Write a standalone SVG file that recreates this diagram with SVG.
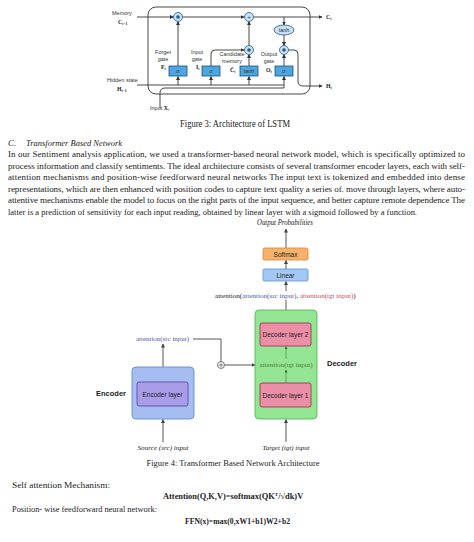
<svg xmlns="http://www.w3.org/2000/svg" width="474" height="542" viewBox="0 0 474 542">
<defs>
<style>
.serif{font-family:"Liberation Serif","Times New Roman",serif;fill:#222}
.sans{font-family:"Liberation Sans",Arial,sans-serif;fill:#222}
.ll{font-family:"Liberation Sans",Arial,sans-serif;font-size:5.5px;fill:#333}
.lb{font-family:"Liberation Serif",serif;font-size:5.8px;font-weight:bold;fill:#222}
.ln{fill:none;stroke:#333;stroke-width:0.9}
.gate{fill:#4ea6e0;stroke:#1d4f78;stroke-width:0.8}
.op{fill:#c4e1f6;stroke:#2a5a82;stroke-width:0.8}
.tl{fill:none;stroke:#444;stroke-width:0.9}
.para{font-family:"Liberation Serif","Times New Roman",serif;font-size:9px;fill:#222}
</style>
<marker id="ah" markerWidth="4" markerHeight="4" refX="3.5" refY="2" orient="auto" markerUnits="userSpaceOnUse">
<path d="M0,0 L4,2 L0,4 Z" fill="#333"/>
</marker>
<marker id="ta" markerWidth="4" markerHeight="4" refX="3.5" refY="2" orient="auto" markerUnits="userSpaceOnUse">
<path d="M0,0 L4,2 L0,4 Z" fill="#444"/>
</marker>
<marker id="ga" markerWidth="3" markerHeight="3" refX="2.5" refY="1.5" orient="auto" markerUnits="userSpaceOnUse">
<path d="M0,0 L3,1.5 L0,3 Z" fill="#3a6b2a"/>
</marker>
</defs>
<rect width="474" height="542" fill="#ffffff"/>

<!-- LSTM figure -->
<g id="lstm">
<g id="lstm-connectors">
<rect x="148" y="7" width="162" height="87" rx="8" class="ln"/>
<line x1="137" y1="17" x2="173.5" y2="17" class="ln" marker-end="url(#ah)"/>
<line x1="182.5" y1="17" x2="244" y2="17" class="ln" marker-end="url(#ah)"/>
<line x1="253.5" y1="17" x2="322" y2="17" class="ln" marker-end="url(#ah)"/>
<line x1="284" y1="17" x2="284" y2="25" class="ln" marker-end="url(#ah)"/>
<line x1="284" y1="35" x2="284" y2="45.5" class="ln" marker-end="url(#ah)"/>
<line x1="178" y1="66" x2="178" y2="21.5" class="ln" marker-end="url(#ah)"/>
<path d="M211,66 V54 Q211,50 215,50 H244" class="ln" marker-end="url(#ah)"/>
<line x1="249" y1="66" x2="249" y2="54.5" class="ln" marker-end="url(#ah)"/>
<line x1="249" y1="45.5" x2="249" y2="21.5" class="ln" marker-end="url(#ah)"/>
<line x1="284" y1="66" x2="284" y2="54.5" class="ln" marker-end="url(#ah)"/>
<path d="M288.5,50 H294 Q298,50 298,54 V81 Q298,86 303,86 H322" class="ln" marker-end="url(#ah)"/>
<line x1="137" y1="85" x2="284" y2="85" class="ln"/>
<path d="M160,108 V93 Q160,88 165,88 H284" class="ln"/>
<line x1="178" y1="85" x2="178" y2="76.5" class="ln" marker-end="url(#ah)"/>
<line x1="211" y1="85" x2="211" y2="76.5" class="ln" marker-end="url(#ah)"/>
<line x1="249" y1="85" x2="249" y2="76.5" class="ln" marker-end="url(#ah)"/>
<line x1="284" y1="88" x2="284" y2="76.5" class="ln" marker-end="url(#ah)"/>
</g>
<g id="lstm-forget"><rect x="169" y="66" width="18" height="10" class="gate"/><text x="178" y="73" text-anchor="middle" class="ll">σ</text></g>
<g id="lstm-input"><rect x="202" y="66" width="18" height="10" class="gate"/><text x="211" y="73" text-anchor="middle" class="ll">σ</text></g>
<g id="lstm-cand"><rect x="240" y="66" width="18" height="10" class="gate"/><text x="249" y="73" text-anchor="middle" class="ll" font-size="5">tanh</text></g>
<g id="lstm-output"><rect x="275" y="66" width="18" height="10" class="gate"/><text x="284" y="73" text-anchor="middle" class="ll">σ</text></g>
<g id="lstm-mul1"><circle cx="178" cy="17" r="4.5" class="op"/><circle cx="178" cy="17" r="1.8" fill="#2a5a82"/></g>
<g id="lstm-add"><circle cx="249" cy="17" r="4.5" class="op"/><text x="249" y="19" text-anchor="middle" class="ll">+</text></g>
<g id="lstm-mul2"><circle cx="249" cy="50" r="4.5" class="op"/><circle cx="249" cy="50" r="1.8" fill="#2a5a82"/></g>
<g id="lstm-mul3"><circle cx="284" cy="50" r="4.5" class="op"/><circle cx="284" cy="50" r="1.8" fill="#2a5a82"/></g>
<g id="lstm-tanh"><ellipse cx="284" cy="30" rx="10" ry="5" class="op"/><text x="284" y="32" text-anchor="middle" class="ll" font-size="5">tanh</text></g>
<g id="lstm-labels">
<text x="112" y="15" class="ll">Memory</text>
<text x="118" y="24" class="lb">C<tspan font-size="3.6" dy="1">t−1</tspan></text>
<text x="107" y="82" class="ll">Hidden state</text>
<text x="117" y="91" class="lb">H<tspan font-size="3.6" dy="1">t−1</tspan></text>
<text x="163" y="54" text-anchor="middle" class="ll">Forget</text>
<text x="163" y="61" text-anchor="middle" class="ll">gate</text>
<text x="161" y="69" class="lb">F<tspan font-size="3.6" dy="1">t</tspan></text>
<text x="197" y="54" text-anchor="middle" class="ll">Input</text>
<text x="197" y="61" text-anchor="middle" class="ll">gate</text>
<text x="196" y="69" class="lb">I<tspan font-size="3.6" dy="1">t</tspan></text>
<text x="232" y="56" text-anchor="middle" class="ll">Candidate</text>
<text x="232" y="63" text-anchor="middle" class="ll">memory</text>
<text x="230" y="72" class="lb">C̃<tspan font-size="3.6" dy="1">t</tspan></text>
<text x="269" y="56" text-anchor="middle" class="ll">Output</text>
<text x="269" y="63" text-anchor="middle" class="ll">gate</text>
<text x="266" y="72" class="lb">O<tspan font-size="3.6" dy="1">t</tspan></text>
<text x="326" y="19" class="lb">C<tspan font-size="3.6" dy="1">t</tspan></text>
<text x="326" y="88" class="lb">H<tspan font-size="3.6" dy="1">t</tspan></text>
<text x="150" y="110" class="ll">Input <tspan class="lb">X</tspan><tspan font-size="3.6" dy="1">t</tspan></text>
</g>
</g>

<text x="235" y="127" text-anchor="middle" class="serif" font-size="9.5" textLength="110" lengthAdjust="spacingAndGlyphs">Figure 3: Architecture of LSTM</text>

<g id="section">
<text x="8" y="146" class="para" font-style="italic">C.</text>
<text x="26" y="146" class="para" font-style="italic" textLength="96" lengthAdjust="spacingAndGlyphs">Transformer Based Network</text>
<text x="8" y="157" class="para" textLength="457" lengthAdjust="spacing">In our Sentiment analysis application, we used a transformer-based neural network model, which is specifically optimized to</text>
<text x="8" y="169" class="para" textLength="457" lengthAdjust="spacing">process information and classify sentiments. The ideal architecture consists of several transformer encoder layers, each with self-</text>
<text x="8" y="180" class="para" textLength="457" lengthAdjust="spacing">attention mechanisms and position-wise feedforward neural networks The input text is tokenized and embedded into dense</text>
<text x="8" y="192" class="para" textLength="457" lengthAdjust="spacing">representations, which are then enhanced with position codes to capture text quality a series of. move through layers, where auto-</text>
<text x="8" y="203" class="para" textLength="457" lengthAdjust="spacing">attentive mechanisms enable the model to focus on the right parts of the input sequence, and better capture remote dependence The</text>
<text x="8" y="215" class="para" textLength="409" lengthAdjust="spacingAndGlyphs">latter is a prediction of sensitivity for each input reading, obtained by linear layer with a sigmoid followed by a function.</text>
</g>

<!-- Transformer figure -->
<g id="tf-connectors">
<line x1="286" y1="248" x2="286" y2="229" class="tl" marker-end="url(#ta)"/>
<line x1="286" y1="269" x2="286" y2="260.5" class="tl" marker-end="url(#ta)"/>
<line x1="286" y1="291" x2="286" y2="281.5" class="tl" marker-end="url(#ta)"/>
<line x1="286" y1="310" x2="286" y2="300" class="tl"/>
<line x1="163" y1="367" x2="163" y2="344" class="tl" marker-end="url(#ta)"/>
<path d="M193,339 H221 V361.5" class="tl"/>
<line x1="224.5" y1="365" x2="255" y2="365" class="tl" marker-end="url(#ta)"/>
<line x1="163" y1="442" x2="163" y2="419.5" class="tl" marker-end="url(#ta)"/>
<line x1="286" y1="442" x2="286" y2="419.5" class="tl" marker-end="url(#ta)"/>
</g>
<g id="tf-output"><text x="285" y="225" text-anchor="middle" class="serif" font-style="italic" font-size="7.5" textLength="56" lengthAdjust="spacingAndGlyphs">Output Probabilities</text></g>
<g id="tf-softmax"><rect x="263" y="248" width="45" height="12" rx="1.5" fill="#f6b26b" stroke="#d9893a" stroke-width="0.8"/><text x="285.5" y="256.5" text-anchor="middle" class="sans" font-size="6.5">Softmax</text></g>
<g id="tf-linear"><rect x="263" y="269" width="45" height="12" rx="1.5" fill="#a4c8f4" stroke="#5b8fd6" stroke-width="0.8"/><text x="285.5" y="277.5" text-anchor="middle" class="sans" font-size="6.5">Linear</text></g>
<g id="tf-attn-label">
<text x="215" y="298" class="serif" font-size="7.1">attention(<tspan style="fill:#5558a8">attention(src input)</tspan>, <tspan style="fill:#c4485c">attention(tgt input)</tspan>)</text>
</g>
<g id="tf-decoder">
<rect x="255" y="310" width="62" height="109" rx="4" fill="#93e493" stroke="#5fb45f" stroke-width="0.9"/>
<rect x="260" y="323" width="51" height="23" rx="2" fill="#ea8fa7" stroke="#9e3b55" stroke-width="0.9"/>
<text x="285.5" y="337" text-anchor="middle" class="sans" font-size="6.5">Decoder layer 2</text>
<rect x="260" y="383" width="51" height="24" rx="2" fill="#ea8fa7" stroke="#9e3b55" stroke-width="0.9"/>
<text x="285.5" y="397.5" text-anchor="middle" class="sans" font-size="6.5">Decoder layer 1</text>
<line x1="286" y1="383" x2="286" y2="370" stroke="#3a6b2a" stroke-width="0.5" marker-end="url(#ga)"/>
<line x1="286" y1="359" x2="286" y2="346.5" stroke="#3a6b2a" stroke-width="0.5" marker-end="url(#ga)"/>
<text x="286" y="367" text-anchor="middle" class="serif" font-size="7" style="fill:#4f7f2f" textLength="53" lengthAdjust="spacingAndGlyphs">attention(tgt input)</text>
<text x="327" y="366" class="sans" font-size="7.5" font-weight="bold">Decoder</text>
</g>
<g id="tf-encoder">
<rect x="132" y="367" width="62" height="52" rx="4" fill="#a5bdf0" stroke="#6a8ad0" stroke-width="0.9"/>
<rect x="137" y="382" width="51" height="24" rx="2" fill="#a99ce9" stroke="#5d4ba3" stroke-width="0.9"/>
<text x="162.5" y="396.5" text-anchor="middle" class="sans" font-size="6.5">Encoder layer</text>
<text x="96" y="396" class="sans" font-size="7.5" font-weight="bold">Encoder</text>
</g>
<g id="tf-src-attn"><text x="136" y="341" class="serif" font-size="7" style="fill:#5558a8" textLength="53" lengthAdjust="spacingAndGlyphs">attention(src input)</text></g>
<g id="tf-plus"><circle cx="221" cy="365" r="3.5" fill="#fff" stroke="#444" stroke-width="0.7"/><path d="M218.5,365 H223.5 M221,362.5 V367.5" stroke="#444" stroke-width="0.6"/></g>
<g id="tf-src"><text x="163" y="450" text-anchor="middle" class="serif" font-style="italic" font-size="7" textLength="51" lengthAdjust="spacingAndGlyphs">Source (src) input</text></g>
<g id="tf-tgt"><text x="286" y="450" text-anchor="middle" class="serif" font-style="italic" font-size="7" textLength="47" lengthAdjust="spacingAndGlyphs">Target (tgt) input</text></g>

<text x="233" y="466" text-anchor="middle" class="serif" font-size="9" textLength="173" lengthAdjust="spacingAndGlyphs">Figure 4: Transformer Based Network Architecture</text>

<g id="equations">
<text x="12" y="488" class="serif" font-size="9" textLength="98" lengthAdjust="spacingAndGlyphs">Self attention Mechanism:</text>
<text x="163" y="499" class="serif" font-size="8.4" font-weight="bold">Attention(Q,K,V)=softmax(QK<tspan font-size="5" dy="-3.5">T</tspan><tspan dy="3.5">/√dk)V</tspan></text>
<text x="12" y="512" class="serif" font-size="9" textLength="145" lengthAdjust="spacingAndGlyphs">Position- wise feedforward neural network:</text>
<text x="185" y="524" class="serif" font-size="9" font-weight="bold" textLength="105" lengthAdjust="spacingAndGlyphs">FFN(x)=max(0,xW1+b1)W2+b2</text>
</g>
</svg>
